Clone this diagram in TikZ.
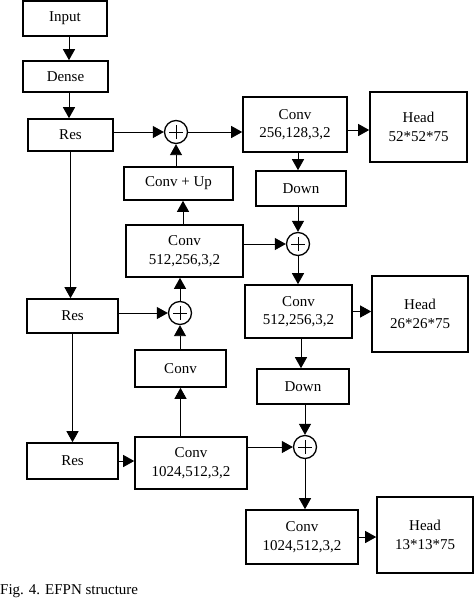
\documentclass[tikz,border=0pt]{standalone}
\usepackage{fontspec}
\setmainfont{Liberation Serif}
\usetikzlibrary{arrows.meta}
\begin{document}
\begin{tikzpicture}[x=1pt,y=-1pt,
 box/.style={draw,line width=1.6pt,inner sep=0pt,align=center,font=\fontsize{15}{18.5}\selectfont},
 arr/.style={line width=0.9pt,-{Triangle[length=11pt,width=12pt]}},
 sumnode/.style={draw,circle,line width=1.3pt,minimum size=23pt,inner sep=0pt,
   path picture={\draw[line width=1pt] ([xshift=-7pt]path picture bounding box.center) -- ([xshift=7pt]path picture bounding box.center);
                 \draw[line width=1pt] ([yshift=-7pt]path picture bounding box.center) -- ([yshift=7pt]path picture bounding box.center);}}]
\useasboundingbox (0,0) rectangle (474,598);
\clip (0,0) rectangle (474,598);
% left column
\node[box,minimum width=84pt,minimum height=35pt] (input) at (65,18.5) {Input};
\node[box,minimum width=85pt,minimum height=31pt] (dense) at (65.5,76.5) {Dense};
\node[box,minimum width=85pt,minimum height=32pt] (res1) at (70.5,135) {Res};
\node[box,minimum width=91pt,minimum height=34pt] (res2) at (72.5,316) {Res};
\node[box,minimum width=91pt,minimum height=36pt] (res3) at (72.5,461) {Res};
% middle column
\node[sumnode] (p1) at (176,132) {};
\node[box,minimum width=109pt,minimum height=33pt] (cup) at (178.5,183.5) {Conv + Up};
\node[box,minimum width=117pt,minimum height=52pt] (c512L) at (184.5,251) {Conv\\512,256,3,2};
\node[sumnode] (p2) at (180,313) {};
\node[box,minimum width=91pt,minimum height=37pt] (convS) at (180.5,368.5) {Conv};
\node[box,minimum width=112pt,minimum height=52pt] (c1024L) at (191,463) {Conv\\1024,512,3,2};
% right column
\node[box,minimum width=104pt,minimum height=55pt] (c256) at (295,124.5) {Conv\\256,128,3,2};
\node[box,minimum width=97pt,minimum height=70pt] (head52) at (418.5,127) {Head\\52*52*75};
\node[box,minimum width=90pt,minimum height=35pt] (down1) at (301,188.5) {Down};
\node[sumnode] (p3) at (298,244) {};
\node[box,minimum width=107pt,minimum height=53pt] (c512R) at (298.5,311.5) {Conv\\512,256,3,2};
\node[box,minimum width=96pt,minimum height=76pt] (head26) at (420,314) {Head\\26*26*75};
\node[box,minimum width=92pt,minimum height=35pt] (down2) at (303,386.5) {Down};
\node[sumnode] (p4) at (305,447) {};
\node[box,minimum width=112pt,minimum height=54pt] (c1024R) at (302,537) {Conv\\1024,512,3,2};
\node[box,minimum width=96pt,minimum height=76pt] (head13) at (425,535) {Head\\13*13*75};
% caption
\node[anchor=base west,inner sep=0pt,font=\fontsize{15}{18}\selectfont] (cap) at (0,594) {Fig. 4. EFPN structure};
% connectors
\draw[arr] ([xshift=4pt]input.south) -- ([xshift=4pt]input.south |- dense.north);
\draw[arr] ([xshift=3.5pt]dense.south) -- ([xshift=3.5pt]dense.south |- res1.north);
\draw[arr] (res1.south) -- (res1.south |- res2.north);
\draw[arr] (res2.south) -- (res2.south |- res3.north);
\draw[arr] (res1.east |- p1) -- (p1.west);
\draw[arr] (cup.north -| p1) -- (p1.south);
\draw[arr] (p1.east) -- (p1 -| c256.west);
\draw[arr] ([yshift=-5.5pt]c256.east) -- ([yshift=-5.5pt]c256.east -| head52.west);
\draw[arr] (c256.south -| p3) -- (down1.north -| p3);
\draw[arr] (down1.south -| p3) -- (p3.north);
\draw[arr] (c512L.east |- p3) -- (p3.west);
\draw[arr] ([xshift=-1.5pt]c512L.north) -- ([xshift=-1.5pt]c512L.north |- cup.south);
\draw[arr] (p3.south) -- (p3.south |- c512R.north);
\draw[arr] (c512R.east) -- (c512R.east -| head26.west);
\draw[arr] ([xshift=2.5pt]c512R.south) -- ([xshift=2.5pt]c512R.south |- down2.north);
\draw[arr] (down2.south -| p4) -- (p4.north);
\draw[arr] (p4.south) -- (p4.south |- c1024R.north);
\draw[arr] (c1024R.east) -- (c1024R.east -| head13.west);
\draw[arr] (res2.east |- p2) -- (p2.west);
\draw[arr] (convS.north -| p2) -- (p2.south);
\draw[arr] (p2.north) -- (p2.north |- c512L.south);
\draw[arr] (res3.east) -- (res3.east -| c1024L.west);
\draw[arr] (c1024L.north -| convS.south) -- (convS.south);
\draw[arr] (c1024L.east |- p4) -- (p4.west);
\end{tikzpicture}
\end{document}
